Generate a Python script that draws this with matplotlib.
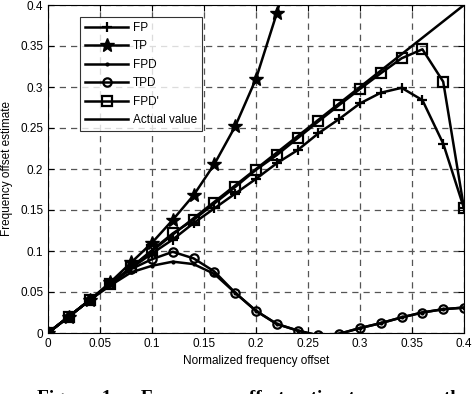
import numpy as np
import matplotlib
matplotlib.use("Agg")
import matplotlib.pyplot as plt

x = [0.00, 0.02, 0.04, 0.06, 0.08, 0.10, 0.12, 0.14, 0.16, 0.18, 0.20,
     0.22, 0.24, 0.26, 0.28, 0.30, 0.32, 0.34, 0.36, 0.38, 0.40]
fp = [0.0, 0.02, 0.04, 0.06, 0.079, 0.097, 0.114, 0.134, 0.152, 0.170, 0.188,
      0.207, 0.223, 0.2435, 0.261, 0.280, 0.293, 0.299, 0.284, 0.231, 0.152]
x_tp = [0.00, 0.02, 0.04, 0.06, 0.08, 0.10, 0.12, 0.14, 0.16, 0.18, 0.20, 0.22, 0.24]
tp = [0.0, 0.02, 0.04, 0.062, 0.086, 0.110, 0.138, 0.168, 0.206, 0.252, 0.310, 0.390, 0.48]
fpd = [0.0, 0.02, 0.04, 0.058, 0.074, 0.082, 0.087, 0.084, 0.072, 0.049, 0.027,
       0.011, 0.003, -0.003, -0.001, 0.006, 0.012, 0.019, 0.025, 0.029, 0.031]
tpd = [0.0, 0.02, 0.04, 0.06, 0.078, 0.090, 0.099, 0.091, 0.075, 0.049, 0.027,
       0.011, 0.003, -0.003, -0.001, 0.006, 0.012, 0.019, 0.025, 0.029, 0.031]
fpd2 = [0.0, 0.02, 0.04, 0.06, 0.08, 0.101, 0.1215, 0.138, 0.158, 0.178, 0.199,
        0.217, 0.2375, 0.258, 0.278, 0.2976, 0.3167, 0.335, 0.346, 0.3065, 0.152]
actual = x

xticks = [0, 0.05, 0.1, 0.15, 0.2, 0.25, 0.3, 0.35, 0.4]
xticklabels = ["0", "0.05", "0.1", "0.15", "0.2", "0.25", "0.3", "0.35", "0.4"]
yticks = [0, 0.05, 0.1, 0.15, 0.2, 0.25, 0.3, 0.35, 0.4]
yticklabels = ["0", "0.05", "0.1", "0.15", "0.2", "0.25", "0.3", "0.35", "0.4"]

plt.rcParams['font.family'] = ['Liberation Sans', 'DejaVu Sans']

fig = plt.figure(figsize=(4.74, 3.94), dpi=100)
ax = fig.add_axes([48/474, 1-333/394, (464-48)/474, (333-5)/394])

lw = 1.8
ax.plot(x, fp, color='k', lw=lw, marker='+', ms=7, mew=1.6, label='FP')
ax.plot(x_tp, tp, color='k', lw=lw, marker='*', ms=10, mew=1.0, label='TP')
ax.plot(x, fpd, color='k', lw=lw, marker='.', ms=4, label='FPD')
ax.plot(x, tpd, color='k', lw=lw, marker='o', ms=6, mfc='none', mew=1.6, label='TPD')
ax.plot(x, fpd2, color='k', lw=lw, marker='s', ms=7, mfc='none', mew=1.6, label="FPD'")
ax.plot(x, actual, color='k', lw=lw, label='Actual value')

ax.set_xlim(0, 0.4)
ax.set_ylim(0, 0.4)
ax.set_xticks(xticks)
ax.set_xticklabels(xticklabels)
ax.set_yticks(yticks)
ax.set_yticklabels(yticklabels)
ax.grid(True, color='#555555', linestyle=(0, (5, 4)), linewidth=0.9)
ax.tick_params(direction='in', top=True, right=True, labelsize=8.5, length=4, colors='k')
for s in ax.spines.values():
    s.set_linewidth(0.8)
ax.set_xlabel('Normalized frequency offset', fontsize=8.5, labelpad=4)
ax.set_ylabel('Frequency offset estimate', fontsize=8.5, labelpad=5)

leg = ax.legend(loc='upper left', bbox_to_anchor=(32/416, 1-12/328), fontsize=8.5,
                frameon=True, fancybox=False, edgecolor='k', handlelength=3.7,
                borderpad=0.4, labelspacing=0.55, handletextpad=0.4, borderaxespad=0)
leg.get_frame().set_linewidth(0.8)

# caption, mostly cut off by the bottom edge as in the reference
fig.text(37/474, (394-403)/394, "Figure  1.     Frequency  offset  estimates  versus  the  actual  value",
         family=['Liberation Serif', 'DejaVu Serif'], fontweight='bold', fontsize=14,
         ha='left', va='baseline')

fig.savefig('out.png', dpi=100)
